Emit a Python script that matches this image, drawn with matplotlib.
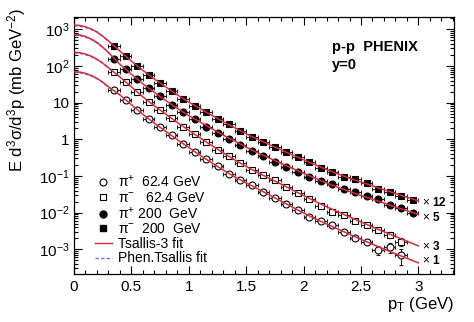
import matplotlib
matplotlib.use("Agg")
import matplotlib.pyplot as plt
from matplotlib.lines import Line2D
from matplotlib.ticker import LogLocator, MultipleLocator, FixedLocator, FixedFormatter, FuncFormatter
import numpy as np

plt.rcParams["font.family"] = ["Liberation Sans", "DejaVu Sans"]
plt.rcParams["mathtext.fontset"] = "custom"
plt.rcParams["mathtext.rm"] = "Liberation Sans"
plt.rcParams["mathtext.it"] = "Liberation Sans:italic"
plt.rcParams["mathtext.bf"] = "Liberation Sans:bold"

# data points (already multiplied by the scale factors shown on the plot)
pt_200 = [0.35, 0.45, 0.55, 0.65, 0.75, 0.85, 0.95, 1.05, 1.15, 1.25, 1.35, 1.45, 1.55, 1.65,
          1.75, 1.85, 1.95, 2.05, 2.15, 2.25, 2.35, 2.45, 2.55, 2.65, 2.75, 2.85, 2.95]
pt_62 = pt_200[:-1]

pim_200_x12 = [351, 184, 102, 56.8, 34.3, 20.7, 12.8, 8.26, 5.66, 3.58, 2.56, 1.69, 1.18, 0.843,
               0.617, 0.443, 0.324, 0.236, 0.168, 0.131, 0.0955, 0.0807, 0.0646, 0.0442, 0.0372,
               0.0284, 0.0217]
pip_200_x5 = [155, 81.1, 45.0, 25.1, 14.9, 8.63, 5.56, 3.52, 2.21, 1.49, 1.0, 0.70, 0.49, 0.344,
              0.245, 0.179, 0.131, 0.0955, 0.0729, 0.0592, 0.0434, 0.0359, 0.0284, 0.0231, 0.0165,
              0.0131, 0.0096]
pim_62_x3 = [68.5, 37.2, 19.5, 10.6, 6.31, 3.74, 2.21, 1.40, 0.83, 0.525, 0.343, 0.222, 0.150,
             0.104, 0.0759, 0.0513, 0.0343, 0.0232, 0.0151, 0.0107, 0.0085, 0.00575, 0.00468,
             0.00343, 0.00251, 0.00162]
pip_62_x1 = [21.7, 11.8, 6.41, 3.65, 2.12, 1.31, 0.759, 0.462, 0.288, 0.184, 0.116, 0.0776, 0.055,
             0.0372, 0.0245, 0.0174, 0.0117, 0.00776, 0.00603, 0.00457, 0.00295, 0.00207, 0.00155,
             0.000957, 0.00114, 0.0007]

# relative y errors
err_200 = [0.04, 0.04, 0.04, 0.04, 0.04, 0.04, 0.04, 0.04, 0.04, 0.04, 0.04, 0.04, 0.04, 0.04,
           0.04, 0.04, 0.04, 0.04, 0.05, 0.05, 0.05, 0.05, 0.06, 0.06, 0.06, 0.07, 0.07]
err_pim_62 = [0.04, 0.04, 0.04, 0.04, 0.04, 0.04, 0.04, 0.04, 0.04, 0.04, 0.04, 0.04, 0.04,
              0.05, 0.05, 0.05, 0.06, 0.06, 0.07, 0.07, 0.08, 0.10, 0.10, 0.12, 0.18, 0.25]
err_pip_62 = [0.04, 0.04, 0.04, 0.04, 0.04, 0.04, 0.04, 0.04, 0.04, 0.04, 0.04, 0.04, 0.04,
              0.05, 0.05, 0.05, 0.06, 0.06, 0.07, 0.07, 0.08, 0.10, 0.12, 0.25, 0.30, 0.45]
pt_halfbin = 0.05

# fit curves
pt_fit = [0.0, 0.05, 0.1, 0.15, 0.2, 0.25, 0.3, 0.4, 0.5, 0.6, 0.7, 0.8, 0.9, 1.0, 1.1, 1.2, 1.3,
          1.4, 1.5, 1.6, 1.7, 1.8, 1.9, 2.0, 2.1, 2.2, 2.3, 2.4, 2.5, 2.6, 2.7, 2.8, 2.9, 3.0]
tsallis_x12 = [1310, 1270, 1175, 1023, 851, 650, 481, 254, 136, 75.9, 44.2, 26.7, 16.3, 10.3, 6.84,
               4.52, 3.02, 2.08, 1.41, 0.995, 0.721, 0.522, 0.378, 0.277, 0.202, 0.150, 0.1135,
               0.0871, 0.0684, 0.0537, 0.0422, 0.0331, 0.0263, 0.0209]
tsallis_x5 = [724, 702, 638, 543, 437, 327, 232, 111, 59.6, 32.7, 19.1, 11.4, 7.0, 4.42, 2.95, 1.95,
              1.30, 0.897, 0.61, 0.427, 0.309, 0.224, 0.162, 0.119, 0.0871, 0.0646, 0.049, 0.0376,
              0.0295, 0.0232, 0.0182, 0.0143, 0.01135, 0.0090]
tsallis_x3 = [236, 230, 212, 185, 153, 120, 89.1, 50.1, 26.9, 14.4, 8.18, 4.85, 2.87, 1.76, 1.08,
              0.676, 0.427, 0.275, 0.182, 0.124, 0.0871, 0.061, 0.0422, 0.0292, 0.0204, 0.0145,
              0.0105, 0.00759, 0.00556, 0.00407, 0.00302, 0.00224, 0.00166, 0.00124]
tsallis_x1 = [70.0, 68.2, 63.0, 55.1, 45.8, 36.1, 27.0, 16.2, 8.81, 4.79, 2.75, 1.64, 0.977, 0.596,
              0.363, 0.229, 0.145, 0.0944, 0.0646, 0.0447, 0.0305, 0.0209, 0.0143, 0.00977,
              0.00684, 0.0049, 0.00355, 0.00257, 0.00186, 0.00138, 0.00102, 0.000759, 0.000569,
              0.000427]

pt_phen = [0.0, 0.05, 0.1, 0.15, 0.2, 0.25, 0.3, 0.4]
phen_x12 = [1245, 1205, 1120, 990, 830, 640, 478, 254]
phen_x5 = [690, 668, 608, 526, 425, 323, 231, 111]
phen_x3 = [225, 219, 202, 179, 149, 119, 88.8, 50.1]
phen_x1 = [66.7, 65.0, 60.0, 53.4, 44.6, 35.7, 26.9, 16.2]

scale_labels = ["12", "5", "3", "1"]
scale_label_y = [0.0195, 0.0076, 0.00123, 0.00051]

ytick_vals = [1e-3, 1e-2, 1e-1, 1, 10, 1e2, 1e3]
ytick_labels = ["$10^{-3}$", "$10^{-2}$", "$10^{-1}$", "1", "10", "$10^{2}$", "$10^{3}$"]

RED = "#dc2a3c"
BLUE = "#7272d6"

fig = plt.figure(figsize=(4.74, 3.22), dpi=100)
ax = fig.add_axes([74 / 474, 1 - 274 / 322, 380 / 474, (274 - 17.3) / 322])

series = [
    (pt_62, pip_62_x1, err_pip_62, "o", "white"),
    (pt_62, pim_62_x3, err_pim_62, "s", "white"),
    (pt_200, pip_200_x5, err_200, "o", "black"),
    (pt_200, pim_200_x12, err_200, "s", "black"),
]
for pt, vals, rel, mk, fc in series:
    vals = np.array(vals)
    rel = np.array(rel)
    ax.errorbar(pt, vals, xerr=pt_halfbin, yerr=vals * rel, fmt=mk,
                ms=5.0 if mk == "o" else 4.6, mfc=fc, mec="black", mew=0.8,
                ecolor="#222222", elinewidth=0.7, capsize=1.6, capthick=0.7, zorder=3)

for ph in [phen_x12, phen_x5, phen_x3, phen_x1]:
    ax.plot(pt_phen, ph, color=BLUE, lw=1.0, ls=(0, (2.5, 1.5)), zorder=2)
for ts in [tsallis_x12, tsallis_x5, tsallis_x3, tsallis_x1]:
    ax.plot(pt_fit, ts, color=RED, lw=1.1, zorder=4)

ax.set_yscale("log")
ax.set_xlim(0, 3.31)
ax.set_ylim(10 ** -3.673, 10 ** 3.327)

ax.xaxis.set_major_locator(MultipleLocator(0.5))
ax.xaxis.set_minor_locator(MultipleLocator(0.1))
ax.xaxis.set_major_formatter(FuncFormatter(lambda v, p: "%g" % v))
ax.yaxis.set_major_locator(FixedLocator(ytick_vals))
ax.yaxis.set_major_formatter(FixedFormatter(ytick_labels))
ax.yaxis.set_minor_locator(LogLocator(base=10, subs=np.arange(2, 10), numticks=20))
ax.yaxis.set_minor_formatter(plt.NullFormatter())

ax.tick_params(which="both", direction="in", top=True, right=True, width=0.8, labelsize=11)
ax.tick_params(which="major", length=5.5)
ax.tick_params(which="minor", length=2.8)
ax.tick_params(axis="x", pad=4)
ax.tick_params(axis="y", pad=3)
for s in ax.spines.values():
    s.set_linewidth(0.9)

ax.set_xlabel("p$_{\\mathregular{T}}$ (GeV)", fontsize=12, loc="right", labelpad=1)
fig.text(17 / 474, 1 - 8 / 322, "E d$^{3}$σ/d$^{3}$p (mb GeV$^{-2}$)", rotation=90,
         ha="center", va="top", fontsize=12)

ax.text(0.679, 0.884, "p-p  PHENIX", transform=ax.transAxes, fontsize=10.5,
        fontweight="bold", va="center", ha="left")
ax.text(0.679, 0.814, "y=0", transform=ax.transAxes, fontsize=10.5,
        fontweight="bold", va="center", ha="left")

for lab, yv in zip(scale_labels, scale_label_y):
    ax.text(3.03, yv, "× $\\mathbf{%s}$" % lab, fontsize=8.5, va="center", ha="left")

handles = [
    Line2D([], [], ls="none", marker="o", ms=5.0, mfc="white", mec="black", mew=0.8),
    Line2D([], [], ls="none", marker="s", ms=4.6, mfc="white", mec="black", mew=0.8),
    Line2D([], [], ls="none", marker="o", ms=5.0, mfc="black", mec="black"),
    Line2D([], [], ls="none", marker="s", ms=4.6, mfc="black", mec="black"),
    Line2D([], [], color=RED, lw=1.0),
    Line2D([], [], color=BLUE, lw=1.0, ls=(0, (2.5, 1.5))),
]
labels = ["π$^{+}$  62.4 GeV", "π$^{-}$   62.4 GeV", "π$^{+}$ 200  GeV", "π$^{-}$  200  GeV",
          "Tsallis-3 fit", "Phen.Tsallis fit"]
ax.legend(handles, labels, loc="upper left", bbox_to_anchor=((95 - 74) / 380, 1 - (174 - 17.3) / 256.7),
          frameon=False, fontsize=10, borderpad=0, borderaxespad=0, handlelength=1.2,
          handletextpad=0.45, labelspacing=0.05)

fig.savefig("out.png", dpi=100)
